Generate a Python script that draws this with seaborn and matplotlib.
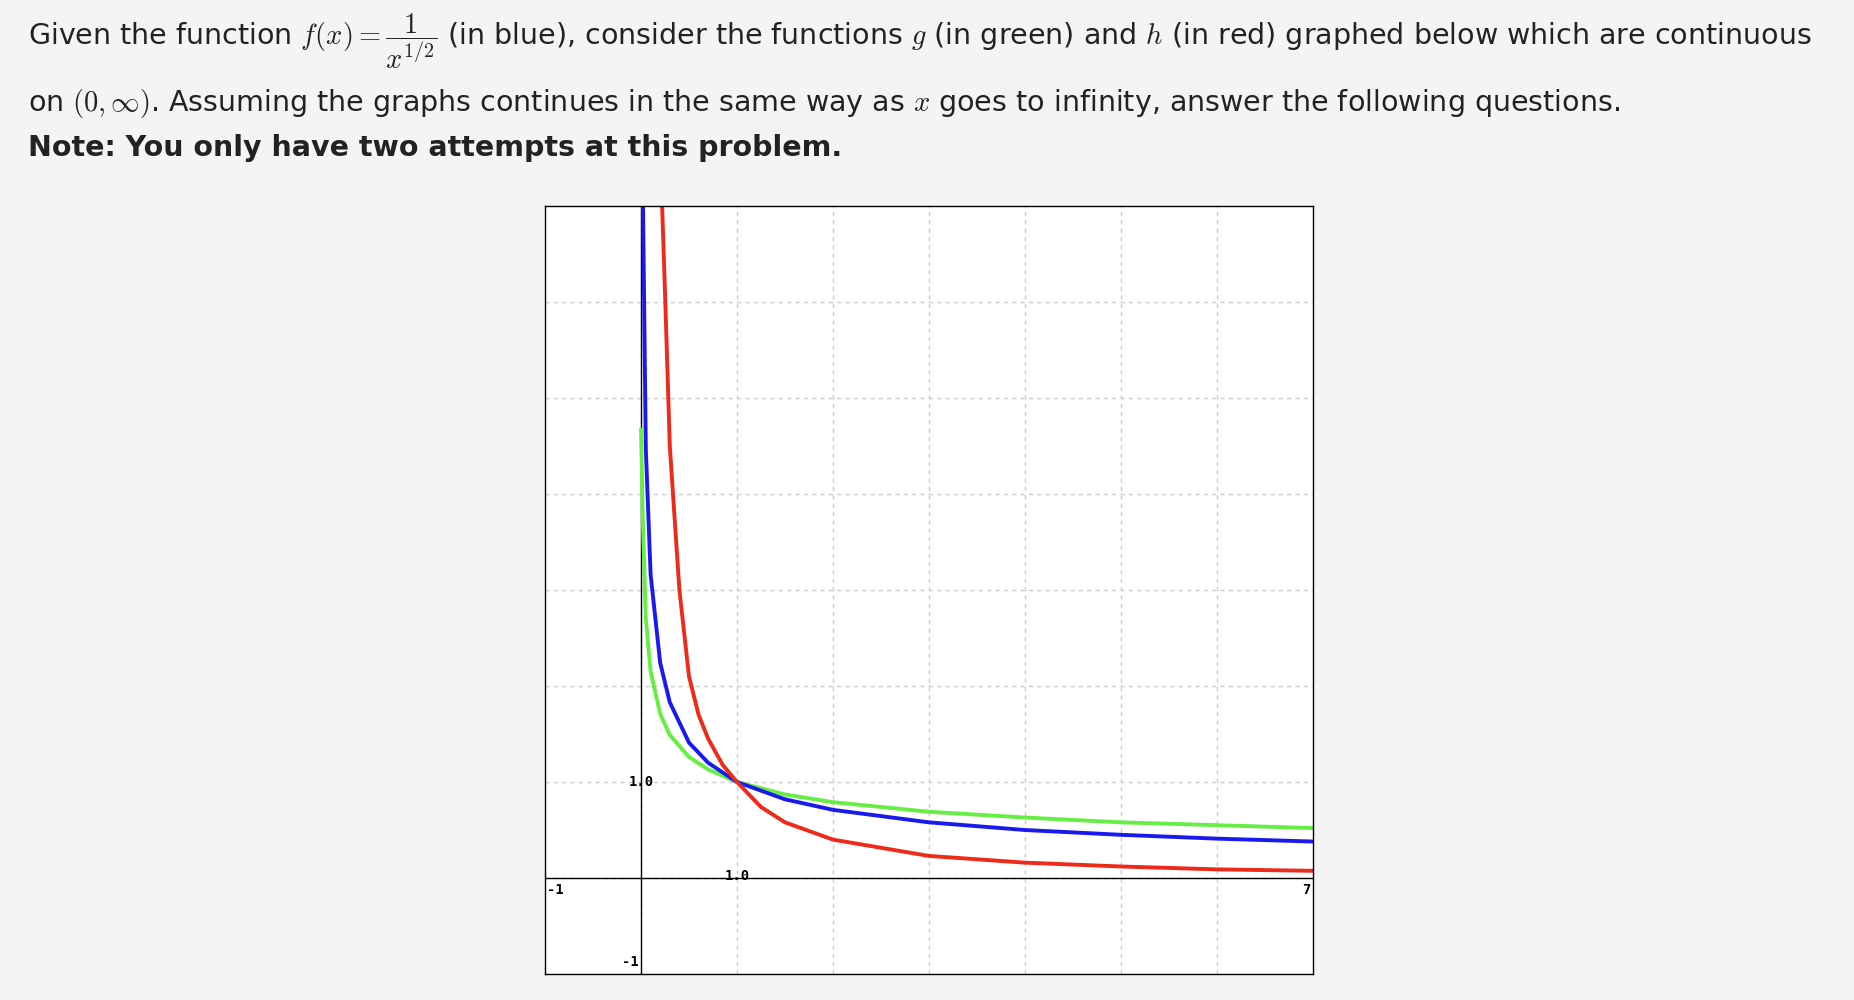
import matplotlib
matplotlib.use('Agg')
import matplotlib.pyplot as plt
import seaborn as sns
import pandas as pd
import numpy as np

# values
blue_x = [0.02, 0.05, 0.1, 0.2, 0.3, 0.5, 0.7, 1.0, 1.5, 2, 3, 4, 5, 6, 7]
blue_y = [7.07, 4.47, 3.16, 2.24, 1.83, 1.41, 1.20, 1.0, 0.82, 0.71, 0.58, 0.50, 0.45, 0.41, 0.38]
green_x = [0.0, 0.02, 0.05, 0.1, 0.2, 0.3, 0.5, 0.7, 1.0, 1.5, 2, 3, 4, 5, 6, 7]
green_y = [4.67, 3.68, 2.71, 2.15, 1.71, 1.49, 1.26, 1.13, 1.0, 0.87, 0.79, 0.69, 0.63, 0.58, 0.55, 0.52]
red_x = [0.22, 0.25, 0.3, 0.4, 0.5, 0.6, 0.7, 0.85, 1.0, 1.25, 1.5, 2, 3, 4, 5, 6, 7]
red_y = [7.0, 6.1, 4.5, 3.0, 2.1, 1.7, 1.45, 1.18, 1.0, 0.74, 0.58, 0.40, 0.23, 0.16, 0.12, 0.09, 0.075]

plt.rcParams['mathtext.fontset'] = 'cm'
bg = '#f4f4f4'
fig = plt.figure(figsize=(18.54, 10.0), dpi=100, facecolor=bg)

txt = dict(fontsize=20.5, color='#222222', family='DejaVu Sans')
fig.text(0.015, 0.959, r'Given the function $f(x) = \dfrac{1}{x^{1/2}}$ (in blue), consider the functions $g$ (in green) and $h$ (in red) graphed below which are continuous',
         va='center', **txt)
fig.text(0.015, 0.897, r'on $(0, \infty)$. Assuming the graphs continues in the same way as $x$ goes to infinity, answer the following questions.',
         va='center', **txt)
fig.text(0.015, 0.852, 'Note: You only have two attempts at this problem.', va='center',
         fontweight='bold', **txt)

ax = fig.add_axes([0.294, 0.026, 0.414, 0.768])
ax.set_facecolor('white')
ax.set_xlim(-1, 7)
ax.set_ylim(-1, 7)
for v in range(0, 7):
    ax.axvline(v, color='#cccccc', lw=1, ls=(0, (3, 3)), zorder=0)
    ax.axhline(v, color='#cccccc', lw=1, ls=(0, (3, 3)), zorder=0)
ax.axvline(0, color='black', lw=1, zorder=1)
ax.axhline(0, color='black', lw=1, zorder=1)

sns.lineplot(x=green_x, y=green_y, ax=ax, color='#66ee44', lw=2.8, sort=False)
sns.lineplot(x=blue_x, y=blue_y, ax=ax, color='#1a1aee', lw=2.8, sort=False)
sns.lineplot(x=red_x, y=red_y, ax=ax, color='#ee2a1a', lw=2.8, sort=False)

ax.set_xticks([])
ax.set_yticks([])
for s in ax.spines.values():
    s.set_color('black')
    s.set_linewidth(1)

lab = dict(fontsize=10, family='monospace', fontweight='bold', color='black')
ax.text(-0.98, -0.05, '-1', va='top', ha='left', **lab)
ax.text(1.0, 0.02, '1.0', va='center', ha='center', **lab)
ax.text(6.98, -0.05, '7', va='top', ha='right', **lab)
ax.text(0.0, 1.0, '1.0', va='center', ha='center', **lab)
ax.text(-0.02, -0.95, '-1', va='bottom', ha='right', **lab)

fig.savefig('out.png', dpi=100, facecolor=bg)
